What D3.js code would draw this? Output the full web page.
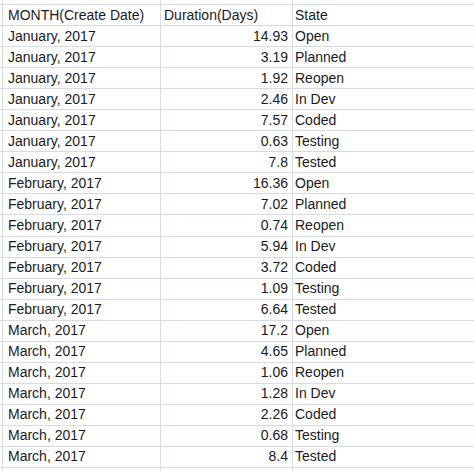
<!DOCTYPE html><html><head><script src="https://cdn.jsdelivr.net/npm/d3@7"></script>
<style>body{margin:0;background:#fff}</style></head><body><svg id="c" width="474" height="471"></svg>
<script>
const headers=["MONTH(Create Date)","Duration(Days)","State"];
const months=["January, 2017","January, 2017","January, 2017","January, 2017","January, 2017","January, 2017","January, 2017","February, 2017","February, 2017","February, 2017","February, 2017","February, 2017","February, 2017","February, 2017","March, 2017","March, 2017","March, 2017","March, 2017","March, 2017","March, 2017","March, 2017"];
const durations=["14.93","3.19","1.92","2.46","7.57","0.63","7.8","16.36","7.02","0.74","5.94","3.72","1.09","6.64","17.2","4.65","1.06","1.28","2.26","0.68","8.4"];
const states=["Open","Planned","Reopen","In Dev","Coded","Testing","Tested","Open","Planned","Reopen","In Dev","Coded","Testing","Tested","Open","Planned","Reopen","In Dev","Coded","Testing","Tested"];
const svg=d3.select("#c");
const n=months.length+1;
const y=d3.scaleLinear().domain([0,n]).range([4,467]);
const colX=[2,160,292,474];
const g=svg.append("g").attr("stroke","#d6dce4").attr("stroke-width",1);
d3.range(n+1).forEach(i=>g.append("line").attr("x1",0).attr("x2",474).attr("y1",Math.round(y(i))+0.5).attr("y2",Math.round(y(i))+0.5));
colX.forEach(x=>g.append("line").attr("x1",x+0.5).attr("x2",x+0.5).attr("y1",0).attr("y2",471));
const t=svg.append("g").attr("font-family","Liberation Sans, Arial, sans-serif").attr("font-size",14).attr("fill","#1a1a1a");
const rows=[headers].concat(months.map((m,i)=>[m,durations[i],states[i]]));
rows.forEach((r,i)=>{
 const yy=y(i+0.5)+5;
 t.append("text").attr("x",8).attr("y",yy).text(r[0]);
 t.append("text").attr("x",i===0?164:288).attr("text-anchor",i===0?"start":"end").attr("y",yy).text(r[1]);
 t.append("text").attr("x",295).attr("y",yy).text(r[2]);
});
</script></body></html>
